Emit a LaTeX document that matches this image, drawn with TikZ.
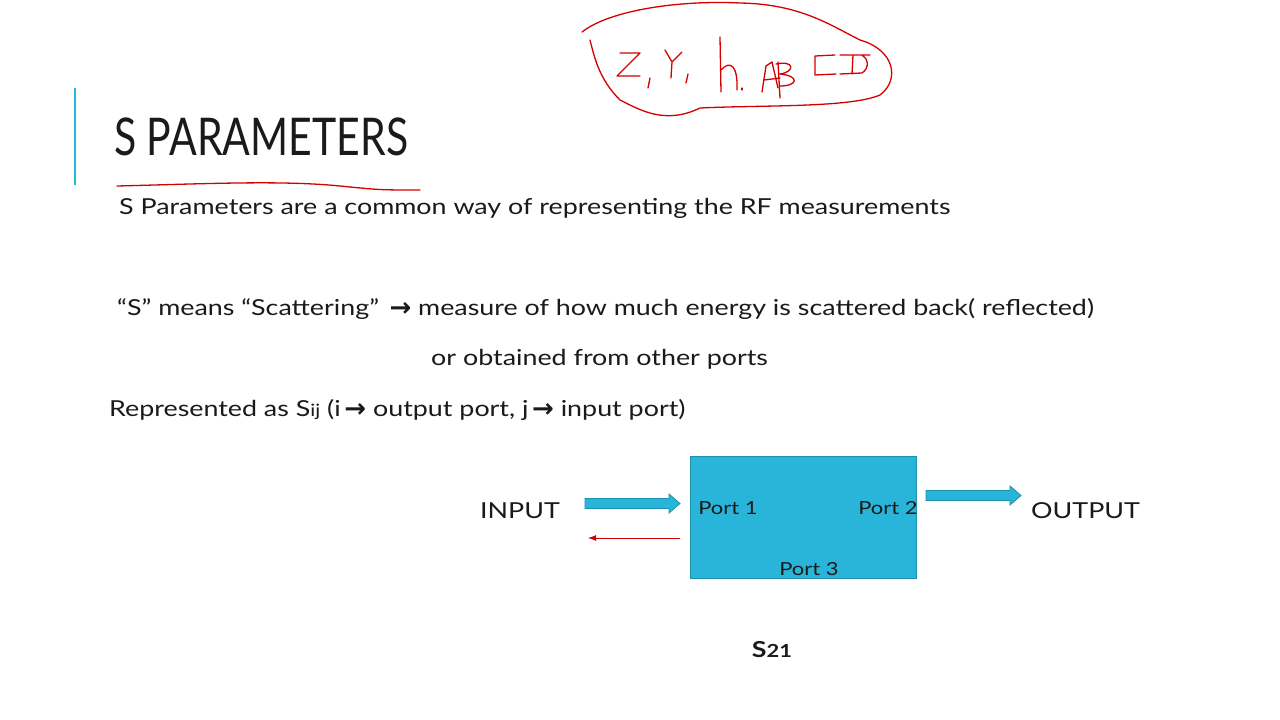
\documentclass[tikz,border=0pt]{standalone}
\usepackage{fontspec}
\setmainfont[FakeStretch=1.22]{Lato}
\newfontfamily\arrfont{DejaVu Sans}
\usetikzlibrary{arrows.meta}
\definecolor{boxblue}{HTML}{29B4DA}
\definecolor{boxedge}{HTML}{1F8FB0}
\definecolor{ink}{HTML}{1A1A1A}
\definecolor{pen}{HTML}{D40000}
\newcommand{\rarr}{\,{\arrfont\bfseries\fontsize{26}{24}\selectfont\raisebox{-1pt}{→}}}
\tikzset{
  body/.style={anchor=west,inner sep=0pt,font=\fontsize{22}{26}\selectfont,text=ink},
  lbl/.style={inner sep=0pt,font=\fontsize{18}{22}\selectfont,text=ink},
  blockarrow/.style={fill=boxblue,draw=boxedge,line width=0.8pt},
  hand/.style={draw=pen,line width=1.3pt,line cap=round,line join=round}
}
\begin{document}
\begin{tikzpicture}[x=1pt,y=-1pt]
\useasboundingbox (0,0) rectangle (1280,720);
\fill[white] (0,0) rectangle (1280,720);
% title bar
\draw[boxblue,line width=1.5pt] (75,88) -- (75,185);
\node[anchor=west,inner sep=0pt,text=ink] (title) at (114,137) {\scalebox{0.84}[1.3]{\fontsize{40}{44}\selectfont S PARAMETERS}};
\draw[hand] (117,186) .. controls (200,184) and (280,180) .. (340,186) .. controls (380,190) .. (420,190);
% handwritten
\draw[hand] (582,32) .. controls (610,10) and (680,0) .. (740,3) .. controls (800,4) and (830,25) .. (860,40)
  .. controls (895,50) and (900,80) .. (880,95) .. controls (850,108) and (760,105) .. (700,108)
  .. controls (665,125) and (640,110) .. (620,100) .. controls (600,80) and (595,60) .. (590,40);
\draw[hand] (620,53) -- (640,53) -- (617,76) -- (640,76);
\draw[hand] (650,78) -- (648,88);
\draw[hand] (665,50) -- (672,62) -- (682,52) (672,62) -- (671,78);
\draw[hand] (688,74) -- (686,83);
\draw[hand] (720,37) -- (721,92) (721,70) .. controls (730,60) and (738,65) .. (737,90);
\draw[hand] (742,88) -- (742,90);
\draw[hand] (762,92) -- (766,66) -- (772,62) -- (778,88) (764,80) -- (780,78);
\draw[hand] (778,62) -- (780,98) (776,64) .. controls (795,60) and (795,72) .. (780,74) .. controls (800,76) and (798,86) .. (780,86);
\draw[hand] (835,55) -- (815,56) -- (815,75) -- (836,74);
\draw[hand] (840,55) -- (870,55) (853,55) -- (852,74) (840,74) -- (862,73) .. controls (870,68) and (868,58) .. (862,55);
% body text
\node[body] (l1) at (119,208) {S Parameters are a common way of representing the RF measurements};
\node[body] (l2) at (117,309) {“S” means “Scattering” \rarr{} measure of how much energy is scattered back( reflected)};
\node[body] (l3) at (431,359) {or obtained from other ports};
\node[body] (l4) at (109,410) {Represented as S{\fontsize{17}{20}\selectfont ij} (i\rarr{} output port, j\rarr{} input port)};
% block
\node[draw=boxedge,fill=boxblue,line width=0.8pt,minimum width=226pt,minimum height=122pt,inner sep=0pt] (box) at (803,517) {};
\node[lbl] (p1) at (728,508) {Port 1};
\node[lbl] (p2) at (888,508) {Port 2};
\node[lbl] (p3) at (809,569) {Port 3};
\node[body] (in) at (480,511) {INPUT};
\node[body] (out) at (1031,511) {OUTPUT};
\node[inner sep=0pt,font=\bfseries\fontsize{22}{26}\selectfont,text=ink] (s21) at (772,650) {S{\fontsize{18}{20}\selectfont 21}};
% arrows
\draw[blockarrow] (585,498.5) -- (669,498.5) -- (669,494) -- (680,503.5) -- (669,513) -- (669,508.5) -- (585,508.5) -- cycle;
\draw[blockarrow] (926,490.5) -- (1010,490.5) -- (1010,486) -- (1021,495.5) -- (1010,505) -- (1010,500.5) -- (926,500.5) -- cycle;
\coordinate (rs) at (680,538);
\coordinate (re) at (588,538);
\draw[pen,line width=0.9pt,-{Latex[length=8pt,width=6pt]}] (rs) -- (re);
\end{tikzpicture}
\end{document}
